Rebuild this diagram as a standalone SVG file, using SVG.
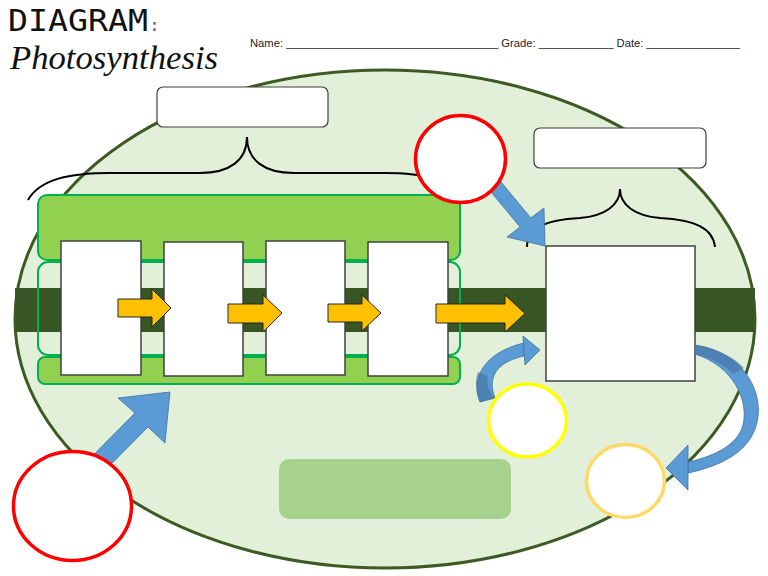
<svg xmlns="http://www.w3.org/2000/svg" width="768" height="576" viewBox="0 0 768 576">
<defs>
<style>
.box{fill:#fff;stroke:#404040;stroke-width:1.5}
.lbl{fill:#fff;stroke:#404040;stroke-width:1.2}
.thy{fill:#92d050;stroke:#00b050;stroke-width:2}
.yarr{fill:#ffc000;stroke:#262626;stroke-width:1}
.barr{fill:#5b9bd5;stroke:#41719c;stroke-width:0.8}
.brace{fill:none;stroke:#000;stroke-width:2}
.circ{fill:#fff;stroke-width:3.5}
</style>
</defs>
<rect width="768" height="576" fill="#fff"/>
<g id="title">
<text x="8" y="31" font-family="DejaVu Sans Mono, monospace" font-size="30" textLength="140" lengthAdjust="spacingAndGlyphs" fill="#111">DIAGRAM</text>
<text x="149" y="31" font-family="DejaVu Sans Mono, monospace" font-size="18" fill="#666">:</text>
<text x="10" y="69" font-family="Liberation Serif, serif" font-style="italic" font-size="33" textLength="208" lengthAdjust="spacingAndGlyphs" fill="#111">Photosynthesis</text>
<text x="250" y="47" font-family="Liberation Sans, Arial, sans-serif" font-size="11" textLength="490" lengthAdjust="spacingAndGlyphs" fill="#222">Name: __________________________________ Grade: ____________ Date: _______________</text>
</g>
<g id="chloroplast">
<ellipse cx="385" cy="319" rx="370" ry="249" fill="#e2efd9" stroke="#3b5b22" stroke-width="3"/>
<rect x="15" y="288" width="740" height="44" fill="#375623"/>
</g>
<g id="thylakoid">
<rect x="38" y="262" width="422" height="93" rx="10" fill="none" stroke="#00b050" stroke-width="2"/>
<rect class="thy" x="38" y="195" width="422" height="65" rx="9"/>
<rect class="thy" x="38" y="357" width="422" height="27" rx="7"/>
</g>
<g id="box1"><rect class="box" x="61" y="241" width="80" height="134"/></g>
<g id="box2"><rect class="box" x="164" y="242" width="79" height="134"/></g>
<g id="box3"><rect class="box" x="266" y="241" width="79" height="134"/></g>
<g id="box4"><rect class="box" x="368" y="242" width="80" height="134"/></g>
<g id="box5"><rect class="box" x="546" y="246" width="149" height="135"/></g>
<g id="label1"><rect class="lbl" x="157" y="87" width="171" height="40" rx="6"/></g>
<g id="label2"><rect class="lbl" x="534" y="128" width="172" height="40" rx="6"/></g>
<g id="rect-bottom"><rect x="279" y="459" width="232" height="60" rx="10" fill="#a9d18e"/></g>
<g id="connectors">
<path class="yarr" d="M118,299 H152 V289 L171,308 L152,327 V317 H118 Z"/>
<path class="yarr" d="M228,304 H263 V295 L282,313 L263,332 V323 H228 Z"/>
<path class="yarr" d="M328,304 H362 V295 L381,313 L362,331 V322 H328 Z"/>
<path class="yarr" d="M436,304 H505 V295 L525,313.5 L505,332 V323 H436 Z"/>
<path class="brace" d="M28,200 C40,179 70,173 110,173 L200,173 C230,173 247,160 247,137 C247,160 264,173 294,173 L384,173 C424,173 454,179 466,200"/>
<path class="brace" d="M527,247 C527,228 545,220 580,218 C605,216 620,205 620,189 C620,205 635,216 660,218 C695,220 713,228 715,247"/>
<polygon class="barr" points="498.9,179.5 530.9,218 544,208 545,246 507,237 520.1,227 488.1,188.5"/>
<polygon class="barr" points="81.8,466.8 135,413 118,398 170,392 165,443 148,427 95.2,480.2"/>
<path class="barr" d="M480,402 C470,378 485,352 524,343 L524,356 C496,362 487,378 495,398 Z"/>
<path d="M480,402 C475,390 475,380 478,372 L488,376 C486,384 489,392 495,398 Z" fill="#41719c" opacity="0.6"/>
<polygon class="barr" points="523,336 540,350 525,365"/>
<path class="barr" d="M695,345 C745,352 766,395 756,426 C749,450 725,465 688,473 L688,462 C716,456 738,444 743,425 C749,400 733,366 695,354 Z"/>
<path d="M695,345 C718,349 734,357 744,368 L733,374 C725,365 712,358 695,354 Z" fill="#41719c" opacity="0.6"/>
<polygon class="barr" points="688,445 666,468 688,490"/>
</g>
<g id="circle-top"><ellipse class="circ" cx="460.5" cy="159" rx="45" ry="43.5" stroke="#ff0000"/></g>
<g id="circle-left"><ellipse class="circ" cx="72.5" cy="506" rx="59" ry="54.5" stroke="#ff0000"/></g>
<g id="circle-yellow"><ellipse class="circ" cx="527.5" cy="420.5" rx="39" ry="36.5" stroke="#ffff00"/></g>
<g id="circle-orange"><ellipse class="circ" cx="625.5" cy="481" rx="39" ry="36.5" stroke="#ffd966"/></g>
</svg>
